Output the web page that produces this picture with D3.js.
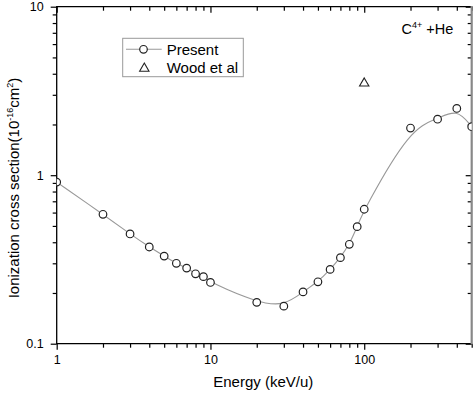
<!DOCTYPE html>
<html>
<head>
<meta charset="utf-8">
<script src="https://cdn.jsdelivr.net/npm/d3@7"></script>
<style>
  body { margin: 0; background: #fff; }
  svg { display: block; font-family: "Liberation Sans", Arial, sans-serif; }
</style>
</head>
<body>
<div id="chart"></div>
<script>
// DATA
var energy = [1, 2, 3, 4, 5, 6, 7, 8, 9, 10, 20, 30, 40, 50, 60, 70, 80, 90, 100, 200, 300, 400, 500];
var present = [0.91, 0.586, 0.448, 0.375, 0.331, 0.300, 0.281, 0.260, 0.250, 0.231, 0.176, 0.167,
               0.203, 0.233, 0.276, 0.324, 0.389, 0.495, 0.628, 1.905, 2.15, 2.49, 1.94];
var woodEnergy = [100];
var woodValues = [3.51];
var xTickLabels = [1, 10, 100];
var yTickLabels = [0.1, 1, 10];

// SETTINGS
var width = 474, height = 394;
var margin = { left: 56.7, right: 2.3, top: 6.7, bottom: 50.3 };
var plotW = width - margin.left - margin.right;
var plotH = height - margin.top - margin.bottom;

var svg = d3.select('#chart').append('svg')
   .attr('width', width)
   .attr('height', height);

var x = d3.scaleLog().domain([1, 500]).range([margin.left, width - margin.right]);
var y = d3.scaleLog().domain([0.1, 10]).range([height - margin.bottom, margin.top]);

// MINOR TICK VALUES
var xMinor = [], yMinor = [];
[1, 10, 100].forEach(function (d) {
   for (var k = 2; k <= 9; k++) if (d * k <= 500) xMinor.push(d * k);
});
[0.1, 1].forEach(function (d) {
   for (var k = 2; k <= 9; k++) yMinor.push(+(d * k).toFixed(2));
});

function styleAxis(g) {
   g.select('.domain').remove();
   g.selectAll('line').attr('stroke', '#000').attr('stroke-width', 1.2);
   g.selectAll('text').attr('fill', '#000').style('font-size', '12.5px');
}

var bottom = height - margin.bottom;
var right = width - margin.right;

// BOTTOM AXIS (OUTWARD)
svg.append('g').attr('transform', 'translate(0,' + bottom + ')')
   .call(d3.axisBottom(x).tickValues(xMinor).tickSize(4).tickFormat(''))
   .call(styleAxis);
svg.append('g').attr('transform', 'translate(0,' + bottom + ')')
   .call(d3.axisBottom(x).tickValues(xTickLabels).tickSize(6).tickPadding(5).tickFormat(d3.format('d')))
   .call(styleAxis);

// TOP AXIS (INWARD)
svg.append('g').attr('transform', 'translate(0,' + margin.top + ')')
   .call(d3.axisBottom(x).tickValues(xMinor).tickSize(4).tickFormat(''))
   .call(styleAxis);
svg.append('g').attr('transform', 'translate(0,' + margin.top + ')')
   .call(d3.axisBottom(x).tickValues(xTickLabels).tickSize(6).tickFormat(''))
   .call(styleAxis);

// LEFT AXIS (OUTWARD)
svg.append('g').attr('transform', 'translate(' + margin.left + ',0)')
   .call(d3.axisLeft(y).tickValues(yMinor).tickSize(4).tickFormat(''))
   .call(styleAxis);
svg.append('g').attr('transform', 'translate(' + margin.left + ',0)')
   .call(d3.axisLeft(y).tickValues(yTickLabels).tickSize(6).tickPadding(7).tickFormat(function (d) { return d < 1 ? '0.1' : d3.format('d')(d); }))
   .call(styleAxis);

// RIGHT AXIS (INWARD)
svg.append('g').attr('transform', 'translate(' + right + ',0)')
   .call(d3.axisLeft(y).tickValues(yMinor).tickSize(4).tickFormat(''))
   .call(styleAxis);
svg.append('g').attr('transform', 'translate(' + right + ',0)')
   .call(d3.axisLeft(y).tickValues(yTickLabels).tickSize(6).tickFormat(''))
   .call(styleAxis);

// FRAME
svg.append('path')
   .attr('d', 'M' + right + ',' + margin.top + 'H' + margin.left + 'V' + bottom + 'H' + right)
   .attr('fill', 'none').attr('stroke', '#000').attr('stroke-width', 1.3);
svg.append('line')
   .attr('x1', right).attr('x2', right).attr('y1', margin.top - 0.6).attr('y2', bottom + 0.6)
   .attr('stroke', '#888').attr('stroke-width', 2.2);

// CLIP
svg.append('clipPath').attr('id', 'clip').append('rect')
   .attr('x', margin.left).attr('y', margin.top).attr('width', plotW).attr('height', plotH);

var plot = svg.append('g').attr('clip-path', 'url(#clip)');

// FIT CURVE
var line = d3.line()
   .x(function (d, i) { return x(energy[i]); })
   .y(function (d) { return y(d); })
   .curve(d3.curveBasis);

plot.append('path')
   .attr('d', line(present))
   .attr('fill', 'none')
   .attr('stroke', '#999')
   .attr('stroke-width', 1.1);

// PRESENT MARKERS
plot.selectAll('.pt').data(present).enter()
   .append('circle')
   .attr('cx', function (d, i) { return x(energy[i]); })
   .attr('cy', function (d) { return y(d); })
   .attr('r', 3.8)
   .attr('fill', '#fff')
   .attr('stroke', '#222')
   .attr('stroke-width', 1.2);

// WOOD ET AL
var tri = d3.symbol().type(d3.symbolTriangle).size(38);
plot.selectAll('.wood').data(woodValues).enter()
   .append('path')
   .attr('d', tri)
   .attr('transform', function (d, i) { return 'translate(' + x(woodEnergy[i]) + ',' + y(d) + ')'; })
   .attr('fill', '#fff')
   .attr('stroke', '#222')
   .attr('stroke-width', 1.1);

// LEGEND
var lg = svg.append('g');
lg.append('rect')
   .attr('x', 122.7).attr('y', 38.3).attr('width', 120.6).attr('height', 38.4)
   .attr('fill', '#fff').attr('stroke', '#999').attr('stroke-width', 1);
lg.append('line')
   .attr('x1', 126).attr('x2', 161.7).attr('y1', 49.3).attr('y2', 49.3)
   .attr('stroke', '#999').attr('stroke-width', 1.1);
lg.append('circle')
   .attr('cx', 143.5).attr('cy', 49.3).attr('r', 3.8)
   .attr('fill', '#fff').attr('stroke', '#222').attr('stroke-width', 1.2);
lg.append('path')
   .attr('d', tri)
   .attr('transform', 'translate(144.3,68.5)')
   .attr('fill', '#fff').attr('stroke', '#222').attr('stroke-width', 1.1);
lg.append('text').attr('x', 166.7).attr('y', 55).style('font-size', '15px').text('Present');
lg.append('text').attr('x', 166.7).attr('y', 73.3).style('font-size', '15px').text('Wood et al');

// SYSTEM LABEL
var sys = svg.append('text').attr('x', 401.5).attr('y', 33.5).style('font-size', '14.5px');
sys.append('tspan').text('C');
sys.append('tspan').attr('dy', -6).style('font-size', '9px').text('4+');
sys.append('tspan').attr('dy', 6).text(' +He');

// AXIS TITLES
svg.append('text')
   .attr('x', 263.3).attr('y', 387)
   .attr('text-anchor', 'middle')
   .style('font-size', '15px')
   .text('Energy (keV/u)');

var yl = svg.append('text')
   .attr('transform', 'translate(19,188) rotate(-90)')
   .attr('text-anchor', 'middle')
   .style('font-size', '15px');
yl.append('tspan').text('Ionization cross section(10');
yl.append('tspan').attr('dy', -6).style('font-size', '9px').text('-16');
yl.append('tspan').attr('dy', 6).text('cm');
yl.append('tspan').attr('dy', -6).style('font-size', '9px').text('2');
yl.append('tspan').attr('dy', 6).text(')');
</script>
</body>
</html>
